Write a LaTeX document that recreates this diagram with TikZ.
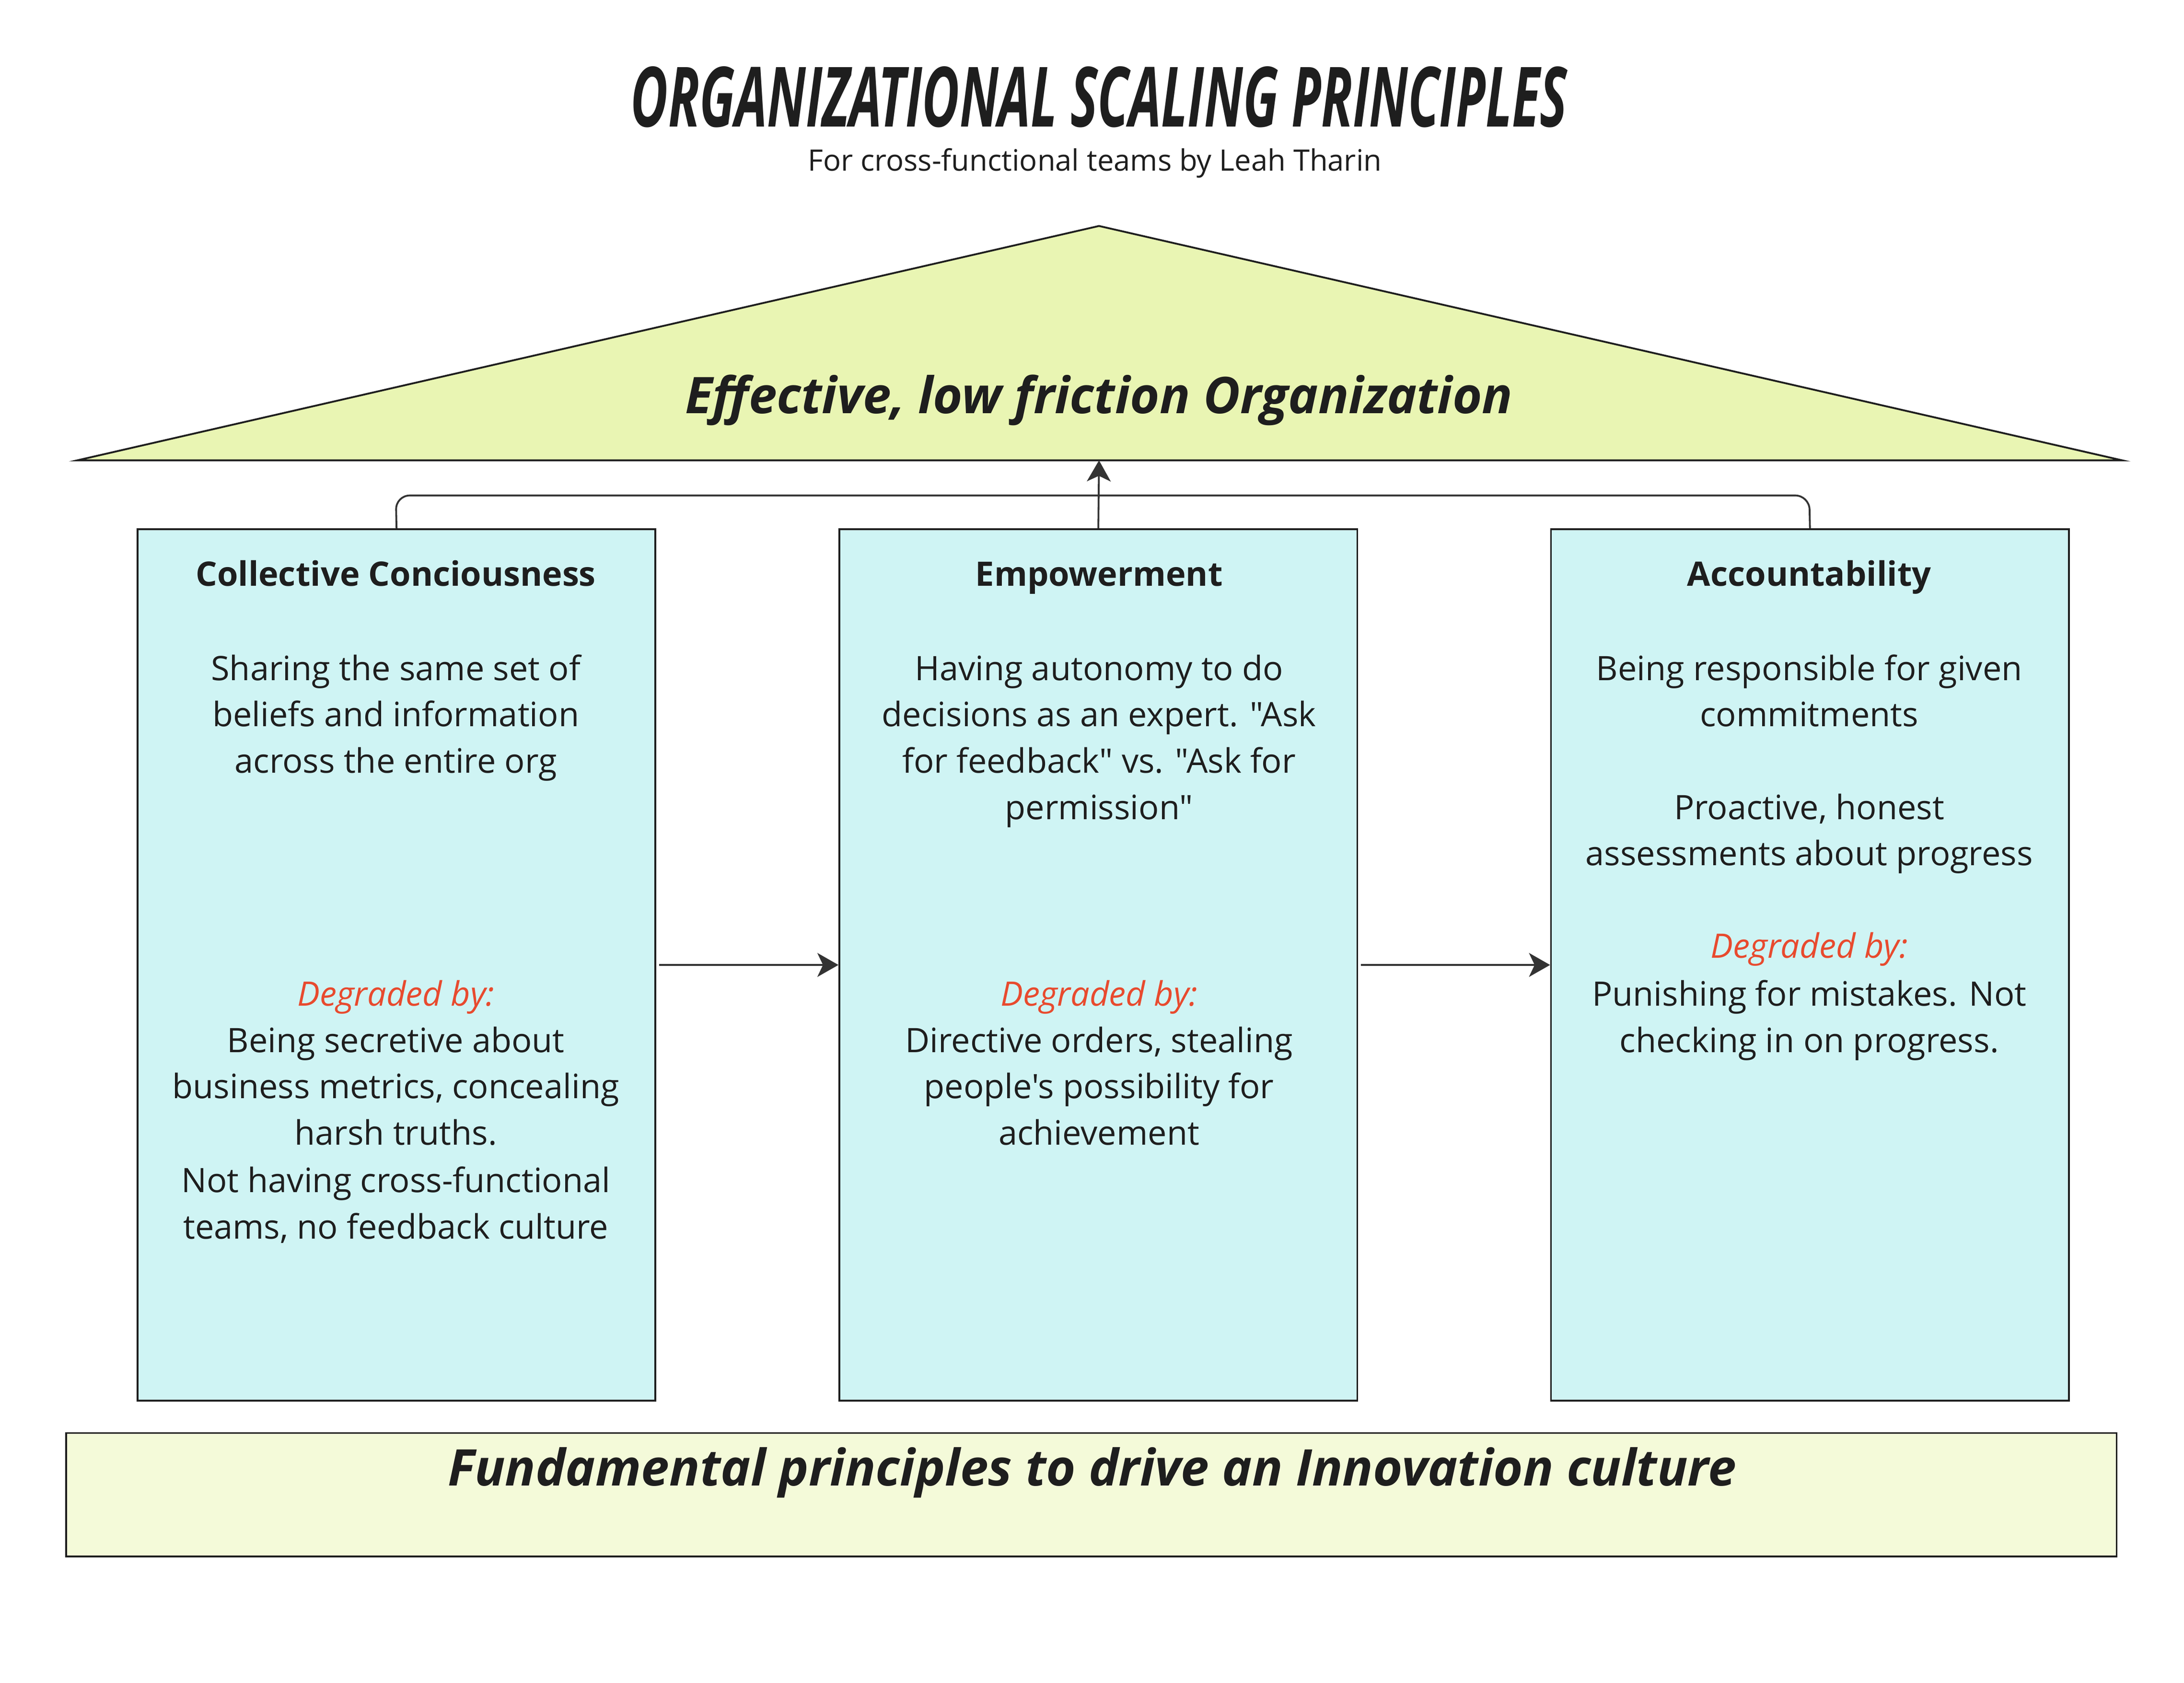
\documentclass[tikz,border=0pt]{standalone}
\usepackage{fontspec}
\usepackage{graphicx}
\setmainfont{Open Sans}[Ligatures=TeXOff]
\usetikzlibrary{arrows.meta}
\definecolor{ink}{HTML}{1E1E1E}
\definecolor{roofgreen}{HTML}{E9F5B3}
\definecolor{pillarcyan}{HTML}{CFF4F4}
\definecolor{basegreen}{HTML}{F4FAD9}
\definecolor{degred}{HTML}{E84A2E}
\definecolor{arrowgray}{HTML}{333333}
\tikzset{
  pillar/.style={draw=ink, line width=1.3pt, fill=pillarcyan},
  bodyline/.style={anchor=mid, text=ink, font=\fontsize{24}{28}\selectfont, inner sep=0pt},
  headline/.style={anchor=mid, text=ink, font=\fontsize{24}{28}\selectfont\bfseries, inner sep=0pt},
  degline/.style={anchor=mid, text=degred, font=\fontsize{24}{28}\selectfont\itshape, inner sep=0pt},
  flowarrow/.style={draw=arrowgray, line width=1.3pt, -{Stealth[length=15pt,width=17pt,inset=4pt]}},
  joinline/.style={draw=arrowgray, line width=1.3pt, rounded corners=10pt},
}
\begin{document}
\begin{tikzpicture}[x=1pt,y=-1pt]
\useasboundingbox (0,0) rectangle (1556,1199);
\fill[white] (0,0) rectangle (1556,1199);

% title
\node[inner sep=0pt, text=ink] (title) at (783,69) {\resizebox{667pt}{43pt}{\bfseries\itshape ORGANIZATIONAL SCALING PRINCIPLES}};
\node[inner sep=0pt, anchor=mid, text=ink, font=\fontsize{21}{24}\selectfont] (subtitle) at (780,119) {For cross-functional teams by Leah Tharin};

% roof
\coordinate (apex) at (783,161);
\coordinate (roofL) at (55,328);
\coordinate (roofR) at (1512,328);
\draw[draw=ink, line width=1.3pt, fill=roofgreen, line join=miter] (roofL) -- (apex) -- (roofR) -- cycle;
\node[inner sep=0pt, anchor=mid, text=ink, font=\fontsize{36}{40}\selectfont\bfseries\itshape] (rooftext) at (783,292) {Effective, low friction Organization};
\coordinate (roofbase) at (783,328);

% pillars
\node[pillar, minimum width=369pt, minimum height=621pt, inner sep=0pt] (p1) at (282.5,687.5) {};
\node[pillar, minimum width=369pt, minimum height=621pt, inner sep=0pt] (p2) at (782.5,687.5) {};
\node[pillar, minimum width=369pt, minimum height=621pt, inner sep=0pt] (p3) at (1289.5,687.5) {};

% base
\node[draw=ink, line width=1.3pt, fill=basegreen, minimum width=1461pt, minimum height=88pt, inner sep=0pt] (base) at (777.5,1065) {};
\node[inner sep=0pt, anchor=mid, text=ink, font=\fontsize{36}{40}\selectfont\bfseries\itshape] (basetext) at (778,1056) {Fundamental principles to drive an Innovation culture};

% pillar 1 text
\node[headline] (h1) at (282,415) {Collective Conciousness};
\node[bodyline] (a1) at (282,482) {Sharing the same set of};
\node[bodyline] (a2) at (282,515) {beliefs and information};
\node[bodyline] (a3) at (282,548) {across the entire org};
\node[degline] (d1) at (282,714) {Degraded by:};
\node[bodyline] (b1) at (282,747) {Being secretive about};
\node[bodyline] (b2) at (282,780) {business metrics, concealing};
\node[bodyline] (b3) at (282,813) {harsh truths.};
\node[bodyline] (b4) at (282,847) {Not having cross-functional};
\node[bodyline] (b5) at (282,880) {teams, no feedback culture};

% pillar 2 text
\node[headline] (h2) at (783,415) {Empowerment};
\node[bodyline] (c1) at (783,482) {Having autonomy to do};
\node[bodyline] (c2) at (783,515) {decisions as an expert. "Ask};
\node[bodyline] (c3) at (783,548) {for feedback" vs. "Ask for};
\node[bodyline] (c4) at (783,581) {permission"};
\node[degline] (d2) at (783,714) {Degraded by:};
\node[bodyline] (e1) at (783,747) {Directive orders, stealing};
\node[bodyline] (e2) at (783,780) {people's possibility for};
\node[bodyline] (e3) at (783,813) {achievement};

% pillar 3 text
\node[headline] (h3) at (1289,415) {Accountability};
\node[bodyline] (f1) at (1289,482) {Being responsible for given};
\node[bodyline] (f2) at (1289,515) {commitments};
\node[bodyline] (f3) at (1289,581) {Proactive, honest};
\node[bodyline] (f4) at (1289,614) {assessments about progress};
\node[degline] (d3) at (1289,680) {Degraded by:};
\node[bodyline] (g1) at (1289,714) {Punishing for mistakes. Not};
\node[bodyline] (g2) at (1289,747) {checking in on progress.};

% connectors
\coordinate (j) at (783,353);
\draw[joinline] (p1.north) -- (282,353) -- (j);
\draw[joinline] (p3.north) -- (1289,353) -- (j);
\draw[flowarrow] (p2.north) -- (roofbase);
\draw[flowarrow] ([xshift=2pt]p1.east) -- (p2.west);
\draw[flowarrow] ([xshift=2pt]p2.east) -- (p3.west);
\end{tikzpicture}
\end{document}
